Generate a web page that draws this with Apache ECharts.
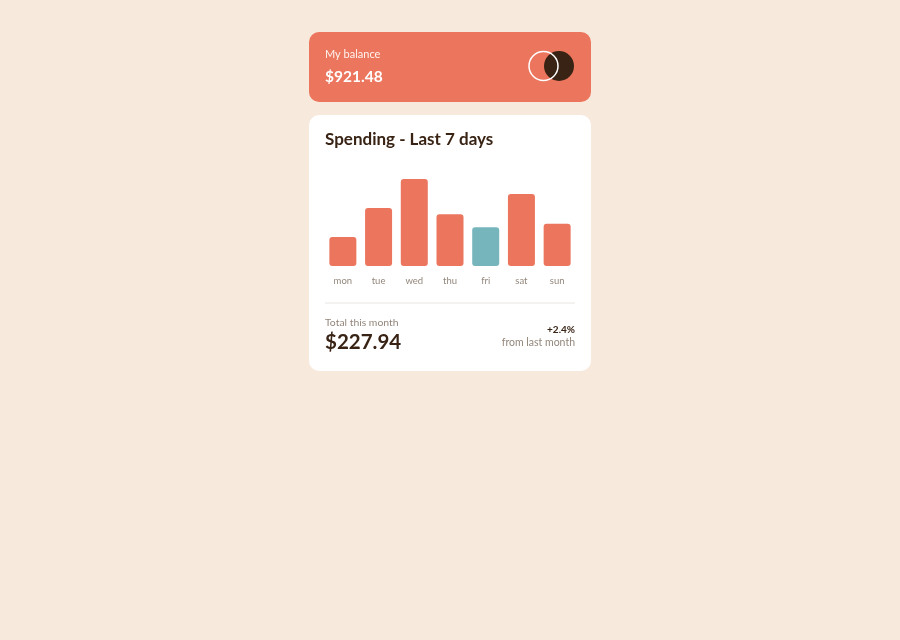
<!DOCTYPE html>
<html>
<head>
<meta charset="utf-8">
<style>
  html, body { margin: 0; padding: 0; background: #F8E9DD; }
  #chart { width: 900px; height: 640px; }
</style>
<script src="https://cdn.jsdelivr.net/npm/echarts@6/dist/echarts.min.js"></script>
</head>
<body>
<div id="chart"></div>
<script>
const days = ['mon', 'tue', 'wed', 'thu', 'fri', 'sat', 'sun'];
const amounts = [17.45, 34.91, 52.36, 31.07, 23.39, 43.28, 25.48];
const todayIndex = 4;
const balanceLabel = 'My balance';
const balanceValue = '$921.48';
const chartTitle = 'Spending - Last 7 days';
const totalLabel = 'Total this month';
const totalValue = '$227.94';
const changeValue = '+2.4%';
const changeLabel = 'from last month';

const ORANGE = '#EC755D', CYAN = '#76B5BC', DARK = '#382314', MID = '#93867B', BG = '#F8E9DD';
const FONT = 'Lato, "Noto Sans", sans-serif';

function txt(x, y, text, fill, font, align) {
  return { type: 'text', x: x, y: y, style: { text: text, fill: fill, font: font, align: align || 'left', verticalAlign: 'middle' } };
}

const chart = echarts.init(document.getElementById('chart'), null, { renderer: 'canvas' });
chart.setOption({
  backgroundColor: BG,
  animation: false,
  grid: { left: 325, right: 325, top: 179, bottom: 374, containLabel: false },
  xAxis: {
    type: 'category',
    data: days,
    axisLine: { show: false },
    axisTick: { show: false },
    axisLabel: { color: MID, fontSize: 9.5, fontFamily: FONT, margin: 10 }
  },
  yAxis: {
    type: 'value', min: 0, max: Math.max.apply(null, amounts),
    show: false, splitLine: { show: false }
  },
  series: [{
    type: 'bar',
    z: 5,
    barWidth: 27,
    data: amounts.map((v, i) => ({
      value: v,
      itemStyle: { color: i === todayIndex ? CYAN : ORANGE, borderRadius: 3 }
    }))
  }],
  graphic: [
    { type: 'rect', z: -10, shape: { x: 309, y: 32, width: 282, height: 70, r: 10 }, style: { fill: ORANGE } },
    txt(325, 54, balanceLabel, '#FFF4EE', '400 11px ' + FONT),
    txt(325, 76.5, balanceValue, '#FFFFFF', '700 15.5px ' + FONT),
    { type: 'circle', z: -5, shape: { cx: 559, cy: 66, r: 15 }, style: { fill: DARK } },
    { type: 'circle', z: -4, shape: { cx: 543.5, cy: 66, r: 14.5 }, style: { fill: 'none', stroke: '#FFFFFF', lineWidth: 1.5 } },
    { type: 'rect', z: -10, shape: { x: 309, y: 115, width: 282, height: 256, r: 10 }, style: { fill: '#FFFFFF' } },
    txt(325, 140, chartTitle, DARK, '700 17px ' + FONT),
    { type: 'line', z: -5, shape: { x1: 325, y1: 303, x2: 575, y2: 303 }, style: { stroke: '#EAE6E2', lineWidth: 1 } },
    txt(325, 323, totalLabel, MID, '400 10.4px ' + FONT),
    txt(325, 342.5, totalValue, DARK, '700 20.5px ' + FONT),
    txt(575, 329.5, changeValue, DARK, '700 10px ' + FONT, 'right'),
    txt(575, 343, changeLabel, MID, '400 10.5px ' + FONT, 'right')
  ]
});
</script>
</body>
</html>
